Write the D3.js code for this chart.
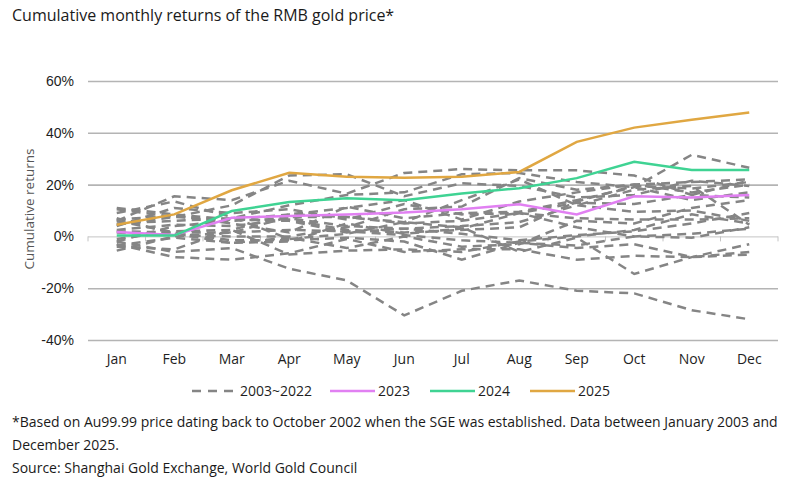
<!DOCTYPE html>
<html>
<head>
<meta charset="utf-8">
<script src="https://cdn.jsdelivr.net/npm/d3@7"></script>
<style>
  body { margin: 0; background: #fff; }
  svg { display: block; font-family: "Open Sans", "Noto Sans", sans-serif; }
</style>
</head>
<body>
<svg id="drawing_region"></svg>
<script>
// months on the x axis
const months = ["Jan","Feb","Mar","Apr","May","Jun","Jul","Aug","Sep","Oct","Nov","Dec"];
const yTicks = [-40, -20, 0, 20, 40, 60];

// 2003~2022, cumulative returns in %
const hist2003 = [7, 1, -2.5, -2, 5, 1, 3, 9, 13, 12.5, 16, 21.5];
const hist2004 = [-4, -5, 2.5, -7, -5.5, -5, -6, -2, 0, 2.5, 8.5, 5];
const hist2005 = [-3.5, -0.5, -2.5, -0.5, -4.5, 0, -4, -3, 6, 5, 11, 14];
const hist2006 = [10.5, 7.5, 12, 23.5, 24, 15.5, 20.5, 19.5, 15, 16, 21.5, 19.5];
const hist2007 = [2.5, 4.5, 4, 6.5, 2.5, 1.5, 2.5, 3.5, 13.5, 19.5, 18.5, 21];
const hist2008 = [9, 13.5, 7.5, -1, 1, 5.5, 3.5, -6, -0.5, -14.5, -8, -3];
const hist2009 = [6.5, 8, 5, 1.5, 11.5, 7, 9, 9.5, 14, 19, 31.5, 26.5];
const hist2010 = [-1, 2, 2.5, 8.5, 11, 14, 6.5, 13.5, 17, 20, 21, 22];
const hist2011 = [-5.5, 0, 1.5, 7.5, 7.5, 5.5, 14, 22, 12, 18, 19.5, 4.5];
const hist2012 = [11, 8.5, 6.5, 6, 1.5, 3, 4, 5.5, 12, 9.5, 10, 6];
const hist2013 = [-2, -6, -4.5, -12.5, -17, -30.5, -21, -17, -21, -22, -28.5, -32];
const hist2014 = [4, 11, 9, 10.5, 6.5, 12.5, 8.5, 9, 3.5, 0, 1, 3];
const hist2015 = [6, 1.5, -1.5, -1.5, -0.5, -2, -9, -2.5, -4.5, -3, -8, -7];
const hist2016 = [6, 15.5, 14, 21.5, 16.5, 24.5, 26, 25.5, 25.5, 23.5, 16, 15];
const hist2017 = [4.5, 7.5, 6.5, 8.5, 7.5, 5, 6, 9, 7, 6.5, 6.5, 7];
const hist2018 = [2, 1.5, 1.5, 2.5, 2, 0.5, -1.5, -2.5, -3.5, 0, -0.5, 3.5];
const hist2019 = [1.5, 0.5, 0, 0, 3.5, 10.5, 11.5, 22.5, 18, 20, 17, 20];
const hist2020 = [5, 6, 7, 12, 16, 17, 24, 24.5, 21, 19, 14, 17];
const hist2021 = [-3, -8, -9, -6.5, -1, -6, -5, -5, -9, -7.5, -8, -6];
const hist2022 = [-2, 4, 6, 7, 4, 3, 1, -1.5, 0.5, 2, 5, 9];

const series2023 = [1.7, 0.5, 7.2, 7.9, 8.5, 9.2, 10.5, 12.4, 8.5, 15.5, 15, 16];
const series2024 = [0.3, 0.3, 9.8, 13.3, 14.7, 14, 16.6, 18.6, 22.5, 28.8, 25.6, 25.6];
const series2025 = [4.5, 8.5, 17.8, 24.6, 23, 22.6, 23, 24.9, 36.5, 42, 45, 47.8];

const history = [hist2003, hist2004, hist2005, hist2006, hist2007, hist2008, hist2009,
    hist2010, hist2011, hist2012, hist2013, hist2014, hist2015, hist2016, hist2017,
    hist2018, hist2019, hist2020, hist2021, hist2022];

const highlights = [
    {label: "2023", color: "#e180f2", values: series2023},
    {label: "2024", color: "#3fd393", values: series2024},
    {label: "2025", color: "#e0a742", values: series2025}
];

const config = {
    width: 802,
    height: 491,
    margin: {top: 81, right: 24, bottom: 151, left: 88}
};

const svg = d3.select('#drawing_region')
    .attr('width', config.width)
    .attr('height', config.height);

const inner_width = config.width - config.margin.left - config.margin.right;
const inner_height = config.height - config.margin.top - config.margin.bottom;

const chart = svg.append('g')
    .attr('transform', `translate(${config.margin.left}, ${config.margin.top})`);

const xscale = d3.scalePoint()
    .domain(months)
    .range([0, inner_width])
    .padding(0.5);

const yscale = d3.scaleLinear()
    .domain([-40, 60])
    .range([inner_height, 0]);

// gridlines + y labels
const yaxis = d3.axisLeft(yscale)
    .tickValues(yTicks)
    .tickSize(-inner_width)
    .tickPadding(14)
    .tickFormat(d => d + '%');

chart.append('g')
    .call(yaxis)
    .call(g => g.select('.domain').remove())
    .call(g => g.selectAll('.tick line')
        .attr('stroke', d => d === 0 ? '#c4c4c4' : '#b4b4b4')
        .attr('stroke-width', d => d === 0 ? 1 : 1.6))
    .call(g => g.selectAll('.tick text')
        .attr('font-size', 14)
        .attr('fill', '#1e1e1e'));

// category ticks along 0%
const step = xscale.step();
const boundaries = d3.range(months.length + 1).map(i => i * step);
chart.append('g')
    .selectAll('line')
    .data(boundaries)
    .join('line')
    .attr('x1', d => d).attr('x2', d => d)
    .attr('y1', yscale(0)).attr('y2', yscale(0) + 5)
    .attr('stroke', '#c4c4c4');

// month labels
chart.append('g')
    .selectAll('text')
    .data(months)
    .join('text')
    .attr('x', d => xscale(d))
    .attr('y', inner_height + 24)
    .attr('text-anchor', 'middle')
    .attr('font-size', 14)
    .attr('fill', '#1e1e1e')
    .text(d => d);

const line = d3.line()
    .x((d, i) => xscale(months[i]))
    .y(d => yscale(d));

chart.append('g')
    .selectAll('path')
    .data(history)
    .join('path')
    .attr('d', line)
    .attr('fill', 'none')
    .attr('stroke', '#858585')
    .attr('stroke-width', 2.5)
    .attr('stroke-dasharray', '9,6');

chart.append('g')
    .selectAll('path')
    .data(highlights)
    .join('path')
    .attr('d', d => line(d.values))
    .attr('fill', 'none')
    .attr('stroke', d => d.color)
    .attr('stroke-width', 2.5);

// y title
svg.append('text')
    .attr('transform', 'translate(34, 209) rotate(-90)')
    .attr('text-anchor', 'middle')
    .attr('font-size', 13.5)
    .attr('fill', '#555')
    .text('Cumulative returns');

// title
svg.append('text')
    .attr('x', 12)
    .attr('y', 21)
    .attr('font-size', 16)
    .attr('fill', '#1a1a1a')
    .text('Cumulative monthly returns of the RMB gold price*');

// legend
const legendItems = [{label: "2003~2022", color: '#858585', dash: '9,7', x: 192}]
    .concat(highlights.map((d, i) => ({label: d.label, color: d.color, dash: null, x: 330 + i * 100})));

const legend = svg.append('g');
legendItems.forEach(d => {
    legend.append('line')
        .attr('x1', d.x).attr('x2', d.x + 45)
        .attr('y1', 391).attr('y2', 391)
        .attr('stroke', d.color)
        .attr('stroke-width', 2.5)
        .attr('stroke-dasharray', d.dash);
    legend.append('text')
        .attr('x', d.x + 48)
        .attr('y', 396)
        .attr('font-size', 14)
        .attr('fill', '#1e1e1e')
        .text(d.label);
});

// footnote
const notes = [
    '*Based on Au99.99 price dating back to October 2002 when the SGE was established. Data between January 2003 and',
    'December 2025.',
    'Source: Shanghai Gold Exchange, World Gold Council'
];
svg.append('g')
    .selectAll('text')
    .data(notes)
    .join('text')
    .attr('x', 12)
    .attr('y', (d, i) => 427 + i * 23)
    .attr('font-size', 14)
    .attr('fill', '#1a1a1a')
    .text(d => d);
</script>
</body>
</html>
